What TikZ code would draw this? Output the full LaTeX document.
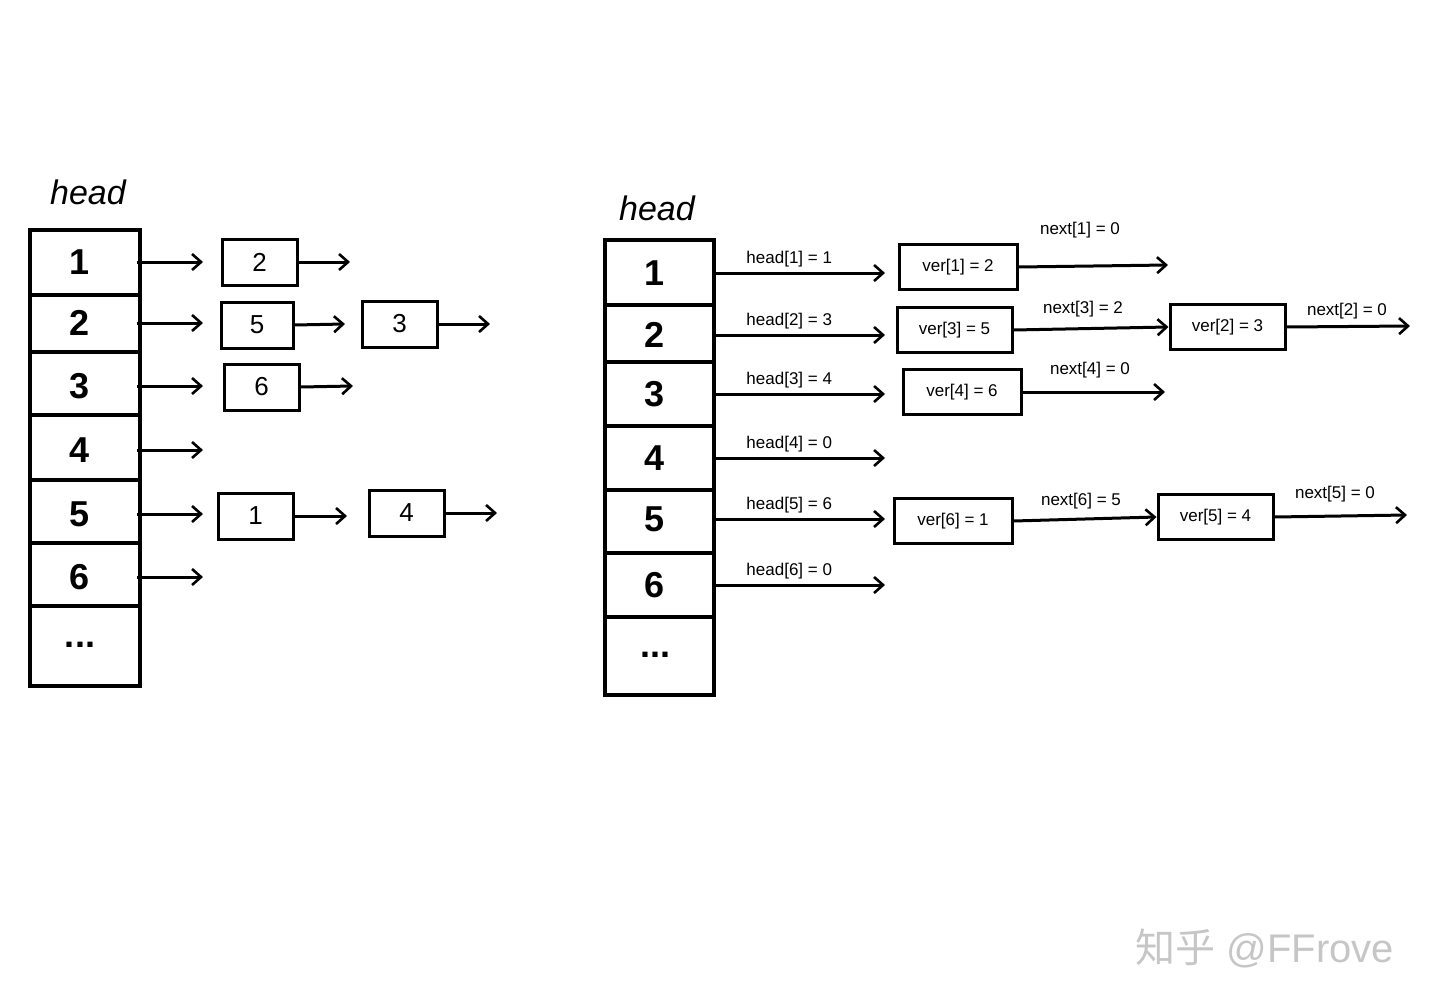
\documentclass[tikz,border=0pt]{standalone}
\usepackage{fontspec}
\setmainfont{Liberation Sans}
\newfontfamily\cjk{Noto Sans CJK SC}
\usetikzlibrary{arrows.meta}
\begin{document}
\begin{tikzpicture}[x=1pt,y=-1pt,
  ln/.style={line width=3.4pt,line cap=round},
  ar/.style={line width=3pt,-{Straight Barb[length=9pt,width=16pt,line width=2.6pt]}},
  bx/.style={draw,line width=3pt,minimum height=46pt,inner sep=0pt,font=\fontsize{26}{26}\selectfont},
  vb/.style={draw,line width=3pt,minimum height=45pt,minimum width=118pt,inner sep=0pt,font=\fontsize{17}{17}\selectfont},
  lb/.style={font=\fontsize{17}{17}\selectfont,anchor=south},
  dg/.style={font=\fontsize{36}{36}\selectfont\bfseries},
  hd/.style={font=\fontsize{34}{34}\selectfont\itshape}]
\useasboundingbox (0,0) rectangle (1440,1006);
% left table
\draw[ln] (30,230) rectangle (140,686);
\foreach \y in {295,352,415,480,543,606} \draw[ln] (30,\y) -- (140,\y);
\node[hd] (lh) at (88,192) {head};
\foreach \t/\y [count=\i] in {1/262,2/323,3/386,4/450,5/514,6/577}
  {\node[dg] (l\i) at (80,\y) {\t}; \coordinate (ls\i) at (137,\y); \coordinate (le\i) at (203,\y);
   \draw[ar] (ls\i) -- (le\i);}
\node[dg] (ldots) at (80,645) {...};
\node[bx,minimum width=75pt] (b2) at (259.5,262) {2};
\node[bx,minimum width=72pt] (b5) at (257,325) {5};
\node[bx,minimum width=75pt] (b3) at (399.5,324) {3};
\node[bx,minimum width=75pt] (b6) at (261.5,387) {6};
\node[bx,minimum width=75pt] (b1) at (255.5,516) {1};
\node[bx,minimum width=75pt] (b4) at (406.5,513) {4};
\coordinate (e2) at (350,262); \coordinate (e5) at (345,324); \coordinate (e3) at (490,324);
\coordinate (e6) at (353,386); \coordinate (e1) at (347,516); \coordinate (e4) at (497,513);
\foreach \b in {2,5,3,6,1,4} \draw[ar] (b\b.east) -- (e\b);
% right table
\draw[ln] (605,240) rectangle (714,695);
\foreach \y in {305,362,426,490,553,617} \draw[ln] (605,\y) -- (714,\y);
\node[hd] (rh) at (657,208) {head};
\foreach \t/\y/\v [count=\i] in {1/273/1,2/335/3,3/394/4,4/458/0,5/519/6,6/585/0}
  {\node[dg] (r\i) at (655,\y) {\t}; \coordinate (rs\i) at (714,\y); \coordinate (re\i) at (885,\y);
   \draw[ar] (rs\i) -- node[lb,pos=0.44,above=1pt] {head[\i] = \v} (re\i);}
\node[dg] (rdots) at (655,655) {...};
\node[vb] (v1) at (958,267) {ver[1] = 2};
\node[vb,minimum width=115pt] (v3) at (954.5,330) {ver[3] = 5};
\node[vb,minimum width=115pt] (v2) at (1227.5,327) {ver[2] = 3};
\node[vb] (v4) at (962,392) {ver[4] = 6};
\node[vb] (v6) at (953,521) {ver[6] = 1};
\node[vb,minimum width=115pt] (v5) at (1215.5,517) {ver[5] = 4};
\coordinate (n1) at (1168,265); \coordinate (n2) at (1410,326); \coordinate (n4) at (1165,392);
\coordinate (n5) at (1407,515);
\draw[ar] (v1.east) -- (n1); \node[lb] at (1080,242) {next[1] = 0};
\draw[ar] (v3.east) -- (v2.west); \node[lb] at (1083,321) {next[3] = 2};
\draw[ar] (v2.east) -- (n2); \node[lb] at (1347,323) {next[2] = 0};
\draw[ar] (v4.east) -- (n4); \node[lb] at (1090,382) {next[4] = 0};
\draw[ar] (v6.east) -- (v5.west); \node[lb] at (1081,513) {next[6] = 5};
\draw[ar] (v5.east) -- (n5); \node[lb] at (1335,506) {next[5] = 0};
% watermark
\node[text=gray!45,font=\fontsize{40}{40}\selectfont] (wm) at (1265,948) {{\cjk 知乎} @FFrove};
\end{tikzpicture}
\end{document}
